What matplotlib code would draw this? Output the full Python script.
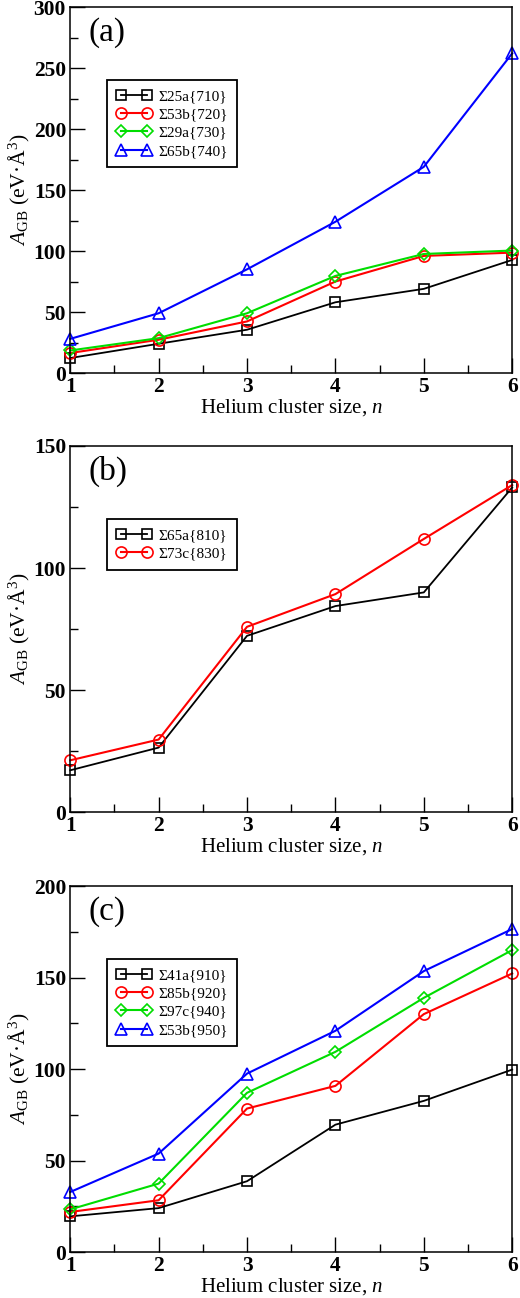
import matplotlib
matplotlib.use("Agg")
import matplotlib.pyplot as plt
from matplotlib.ticker import MultipleLocator

plt.rcParams['font.family'] = ['Liberation Serif', 'DejaVu Serif']
plt.rcParams['mathtext.fontset'] = 'custom'
plt.rcParams['mathtext.rm'] = 'Liberation Serif'
plt.rcParams['mathtext.it'] = 'Liberation Serif:italic'
plt.rcParams['mathtext.bf'] = 'Liberation Serif:bold'

n = [1, 2, 3, 4, 5, 6]

# Panel (a)
a_labels = ["Σ25a{710}", "Σ53b{720}", "Σ29a{730}", "Σ65b{740}"]
a_s25a = [12.3, 24.0, 35.5, 58.0, 69.0, 92.7]
a_s53b = [16.4, 27.3, 42.3, 75.0, 96.0, 98.7]
a_s29a = [18.5, 28.6, 49.0, 79.6, 97.6, 100.4]
a_s65b = [28.0, 49.0, 85.0, 124.0, 169.0, 262.0]

# Panel (b)
b_labels = ["Σ65a{810}", "Σ73c{830}"]
b_s65a = [17.1, 26.4, 72.2, 84.4, 90.0, 133.0]
b_s73c = [21.2, 29.7, 75.9, 89.3, 111.9, 134.0]

# Panel (c)
c_labels = ["Σ41a{910}", "Σ85b{920}", "Σ97c{940}", "Σ53b{950}"]
c_s41a = [19.5, 24.0, 38.7, 69.6, 82.6, 99.7]
c_s85b = [21.9, 28.3, 78.4, 90.8, 130.0, 152.2]
c_s97c = [23.3, 37.4, 87.0, 109.4, 138.9, 165.0]
c_s53b = [32.8, 53.8, 97.5, 120.9, 153.5, 176.5]

colors = ['#000000', '#ff0000', '#00dd00', '#0000ff']
markers = ['s', 'o', 'D', '^']
msizes = [6.5, 8, 6.5, 8]

fig = plt.figure(figsize=(5.2, 12.98), dpi=100)

left, width, height = 0.135, 0.85, 0.282
bottoms = [0.7126, 0.3744, 0.0354]

panels = [
    ("(a)", a_labels, [a_s25a, a_s53b, a_s29a, a_s65b], 300, 50),
    ("(b)", b_labels, [b_s65a, b_s73c], 150, 50),
    ("(c)", c_labels, [c_s41a, c_s85b, c_s97c, c_s53b], 200, 50),
]

for (tag, labels, series, ymax, ystep), bot in zip(panels, bottoms):
    ax = fig.add_axes([left, bot, width, height])
    for i, (lab, ys) in enumerate(zip(labels, series)):
        ax.plot(n, ys, color=colors[i], marker=markers[i], ms=msizes[i],
                mfc='none', mec=colors[i], mew=1.2, lw=1.5 if i else 1.3,
                label=lab, clip_on=False)
    ax.set_xlim(1, 6)
    ax.set_ylim(0, ymax)
    ax.xaxis.set_major_locator(MultipleLocator(1))
    ax.xaxis.set_minor_locator(MultipleLocator(0.5))
    ax.yaxis.set_major_locator(MultipleLocator(ystep))
    ax.yaxis.set_minor_locator(MultipleLocator(ystep / 2))
    ax.tick_params(which='both', direction='in', top=False, right=False)
    ax.tick_params(which='major', length=10.5, width=1.0, labelsize=15.5, pad=3)
    ax.tick_params(which='minor', length=5.5, width=1.0)
    for lbl in ax.get_xticklabels() + ax.get_yticklabels():
        lbl.set_fontweight('bold')
    for sp in ax.spines.values():
        sp.set_linewidth(1.1)
    ax.set_xlabel(r"Helium cluster size, $\mathit{n}$", fontsize=15, labelpad=0)
    ax.set_ylabel(r"$\mathit{A}_{\mathrm{GB}}$ (eV·Å$^{3}$)", fontsize=15.5, labelpad=1)
    ax.text(0.042, 0.93, tag, transform=ax.transAxes, fontsize=24,
            va='center', ha='left')
    leg = ax.legend(loc='upper left', bbox_to_anchor=(0.083, 0.80),
                    numpoints=2, handlelength=2.3, fontsize=11,
                    frameon=True, fancybox=False, edgecolor='black',
                    framealpha=1, borderpad=0.6, labelspacing=0.3,
                    handletextpad=0.5, borderaxespad=0)
    leg.get_frame().set_linewidth(1.3)

fig.savefig("out.png", dpi=100)
